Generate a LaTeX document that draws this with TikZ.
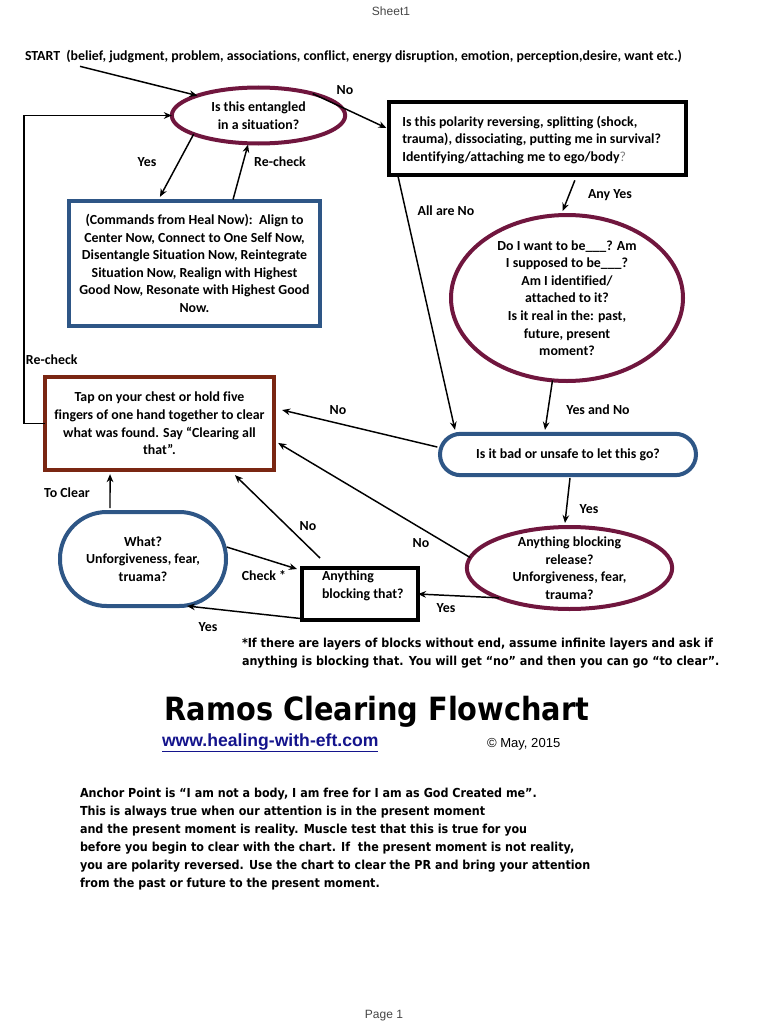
\documentclass[tikz,border=0pt]{standalone}
\usepackage{fontspec}
\setmainfont{Carlito}[Ligatures=NoCommon]
\newfontfamily\tahfont[FakeStretch=0.9]{DejaVu Sans}
\newfontfamily\arialfont{Liberation Sans}
\usetikzlibrary{arrows.meta,shapes.geometric}
\definecolor{maroonline}{RGB}{112,22,62}
\definecolor{bluebox}{RGB}{46,86,134}
\definecolor{brownbox}{RGB}{122,38,18}
\definecolor{urlblue}{RGB}{20,20,140}
\definecolor{pagegray}{RGB}{70,70,70}
\begin{document}
\begin{tikzpicture}[x=0.75pt,y=-0.75pt,
  every node/.style={inner sep=0pt, outer sep=0pt, font=\fontsize{10.4}{13.2}\selectfont\bfseries},
  arr/.style={line width=1.1pt, -{Stealth[length=6pt,width=5pt]}},
  lbl/.style={font=\fontsize{10.4}{12}\selectfont\bfseries},
  mell/.style={ellipse, draw=maroonline, line width=3pt, align=center, inner xsep=-10pt, inner ysep=-14pt},
  bluerect/.style={rectangle, draw=bluebox, line width=3pt, align=center},
  bluepill/.style={rectangle, draw=bluebox, line width=3pt, align=center},
  blackrect/.style={rectangle, draw=black, line width=3.5pt},
  brownrect/.style={rectangle, draw=brownbox, line width=3pt, align=center},
  foot/.style={font=\tahfont\fontsize{9.3}{11}\selectfont\bfseries, anchor=base west},
  pagetxt/.style={font=\arialfont\fontsize{9}{11}\selectfont, text=pagegray, anchor=base}
]
\useasboundingbox (0,0) rectangle (768,1024);

% page header / footer
\node[pagetxt] (sheet) at (391,16) {Sheet1};
\node[pagetxt] (page) at (384,1018) {Page 1};

% start text
\node[anchor=base west] (start) at (25,61) {START\ \ (belief, judgment, problem, associations, conflict, energy disruption, emotion, perception,desire, want etc.)};

% nodes
\node[mell, minimum width=130pt, minimum height=42pt] (e1) at (258.5,115.5) {Is this entangled\\in a situation?};

\node[blackrect, minimum width=222.75pt, minimum height=54.75pt] (pol) at (537.5,138.5) {};
\node[anchor=west, align=left] (poltxt) at ([xshift=10pt,yshift=-1pt]pol.west) {Is this polarity reversing, splitting (shock,\\trauma), dissociating, putting me in survival?\\Identifying/attaching me to ego/body{\mdseries\color{gray}?}};

\node[bluerect, minimum width=188pt, minimum height=94pt] (heal) at (194.5,263.5) {(Commands from Heal Now):\ \ Align to\\Center Now, Connect to One Self Now,\\Disentangle Situation Now, Reintegrate\\Situation Now, Realign with Highest\\Good Now, Resonate with Highest Good\\Now.};

\node[mell, minimum width=174pt, minimum height=124.5pt] (e3) at (567,298) {Do I want to be\_\_\_? Am\\I supposed to be\_\_\_?\\Am I identified/\\attached to it?\\Is it real in the: past,\\future, present\\moment?};

\node[brownrect, minimum width=172pt, minimum height=70pt] (clr) at (159.5,423.5) {Tap on your chest or hold five\\fingers of one hand together to clear\\what was found. Say “Clearing all\\that”.};

\node[bluepill, rounded corners=15.5pt, minimum width=192pt, minimum height=31pt] (bad) at (568,454.5) {Is it bad or unsafe to let this go?};

\node[mell, minimum width=154pt, minimum height=61.5pt] (e4) at (569.5,568) {Anything blocking\\release?\\Unforgiveness, fear,\\trauma?};

\node[bluepill, rounded corners=35pt, minimum width=124.5pt, minimum height=70.5pt] (what) at (143,559) {What?\\Unforgiveness, fear,\\truama?};

\node[blackrect, line width=3pt, minimum width=87pt, minimum height=39pt] (abt) at (360,594) {};
\node[anchor=north west, align=left] (abttxt) at ([xshift=15pt,yshift=-2pt]abt.north west) {Anything\\blocking that?};

% connectors
\draw[arr] ([xshift=41.25pt,yshift=-4pt]start.base west) -- (e1.162);
\draw[arr] (e1.22) -- ([xshift=-2pt,yshift=7.9pt]pol.west);
\draw[arr] (clr.west) -- ++(-21,0) |- (e1.west);
\draw[arr] (e1.196) -- ([xshift=-25.9pt,yshift=3pt]heal.north);
\draw[arr, shorten >=1pt] ([xshift=28.9pt,yshift=1pt]heal.north) -- (e1.250);
\draw[arr] ([xshift=28pt,yshift=-4pt]pol.south) -- ([yshift=3pt]e3.93);
\draw[arr] ([xshift=-104.6pt,yshift=-1pt]pol.south) -- ([xshift=-84.75pt,yshift=3pt]bad.north);
\draw[arr] (e3.260) -- ([xshift=-17.25pt,yshift=3pt]bad.north);
\draw[arr] ([xshift=-2pt,yshift=5.6pt]bad.west) -- ([xshift=6pt,yshift=10.1pt]clr.east);
\draw[arr] (e4.174) -- ([xshift=3pt,yshift=-14.6pt]clr.east);
\draw[arr] ([xshift=-30pt,yshift=7.5pt]abt.north) -- ([xshift=56.6pt,yshift=-3.75pt]clr.south);
\draw[arr] ([xshift=-24.75pt,yshift=3pt]what.north) -- ([xshift=-37.1pt,yshift=-3pt]clr.south);
\draw[arr] ([xshift=0.5pt,yshift=9pt]what.east) -- ([xshift=-3.75pt,yshift=-0.75pt]abt.north west);
\draw[arr] (e4.203) -- (abt.east);
\draw[arr] ([yshift=1pt]abt.south west) -- ([xshift=33pt]what.south);
\draw[arr] ([xshift=1.5pt,yshift=-2pt]bad.south) -- ([xshift=-3.4pt,yshift=3pt]e4.north);

% connector labels
\node[lbl] (lno1) at (345,90) {No};
\node[lbl] (lyes1) at (147,162) {Yes};
\node[lbl] (lre1) at (280,162) {Re-check};
\node[lbl] (lany) at (610,195) {Any Yes};
\node[lbl] (lall) at (446,211) {All are No};
\node[lbl, anchor=west] (lre2) at (26,360) {Re-check};
\node[lbl] (lyesno) at (598,410) {Yes and No};
\node[lbl] (lno2) at (338,410) {No};
\node[lbl] (ltoclear) at (67,493) {To Clear};
\node[lbl] (lyes2) at (589,509) {Yes};
\node[lbl] (lno3) at (308,526) {No};
\node[lbl] (lno4) at (421,543) {No};
\node[lbl] (lcheck) at (264,576) {Check *};
\node[lbl] (lyes3) at (446,608) {Yes};
\node[lbl] (lyes4) at (208,627) {Yes};

% footnote
\node[foot] (fn1) at (242,647) {*If there are layers of blocks without end, assume infinite layers and ask if};
\node[foot] (fn2) at (242,665) {anything is blocking that. You will get “no” and then you can go “to clear”.};

% title block
\node[font=\tahfont\fontsize{24}{28}\selectfont\bfseries, anchor=base] (title) at (377,720) {Ramos Clearing Flowchart};
\node[font=\arialfont\fontsize{13.2}{15}\selectfont\bfseries, text=urlblue, anchor=base west] (url) at (162,746) {\underline{www.healing-with-eft.com}};
\node[font=\arialfont\fontsize{9.8}{11}\selectfont, anchor=base west] (copy) at (487,747) {© May, 2015};

% anchor point text
\node[foot] (a1) at (80,797) {Anchor Point is “I am not a body, I am free for I am as God Created me”.};
\node[foot] (a2) at (80,815) {This is always true when our attention is in the present moment};
\node[foot] (a3) at (80,833) {and the present moment is reality. Muscle test that this is true for you};
\node[foot] (a4) at (80,851) {before you begin to clear with the chart. If\ \ the present moment is not reality,};
\node[foot] (a5) at (80,869) {you are polarity reversed. Use the chart to clear the PR and bring your attention};
\node[foot] (a6) at (80,887) {from the past or future to the present moment.};
\end{tikzpicture}
\end{document}
